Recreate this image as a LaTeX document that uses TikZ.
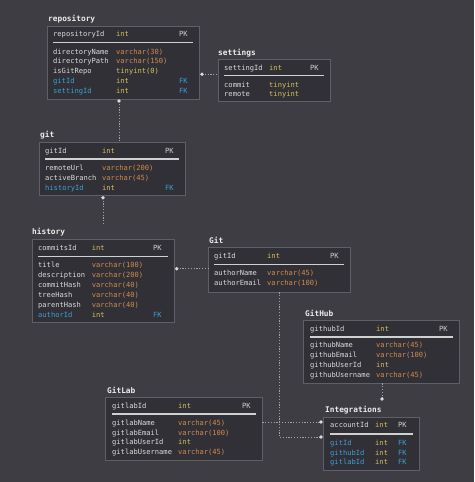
\documentclass[tikz,border=0pt]{standalone}
\usepackage{fontspec}
\setmonofont{DejaVu Sans Mono}
\definecolor{bgc}{HTML}{3D3D43}
\definecolor{tblfill}{HTML}{303036}
\definecolor{tblborder}{HTML}{5F5F67}
\definecolor{ttlc}{HTML}{ECECEC}
\definecolor{nmc}{HTML}{DCDCDC}
\definecolor{fkc}{HTML}{3D9FD6}
\definecolor{intc}{HTML}{D6C25A}
\definecolor{varc}{HTML}{D08A4E}
\definecolor{pkc}{HTML}{D0D0D0}
\definecolor{sepc}{HTML}{D0D0D0}
\definecolor{connc}{HTML}{A0A0A8}
\definecolor{dotc}{HTML}{DADAE0}
\tikzset{
  tbl/.style={draw=tblborder, fill=tblfill, line width=0.9pt, inner sep=0pt},
  txt/.style={anchor=base west, inner sep=0pt, font=\ttfamily\fontsize{7.1}{8}\selectfont},
  ttl/.style={anchor=base west, inner sep=0pt, font=\ttfamily\bfseries\fontsize{7.8}{9}\selectfont, text=ttlc},
  nm/.style={txt, text=nmc},
  fk/.style={txt, text=fkc},
  ti/.style={txt, text=intc},
  tv/.style={txt, text=varc},
  pk/.style={txt, text=pkc},
  sepline/.style={draw=sepc, line width=1.2pt},
  conn/.style={draw=connc, line width=0.9pt, dash pattern=on 1.2pt off 1.6pt},
  dotm/.style={fill=dotc, draw=none}
}
\newcommand\mytable[5]{\node[tbl, minimum width={(#4-#2)*1pt}, minimum height={(#5-#3)*1pt}] (#1) at ({(#2+#4)/2},{(#3+#5)/2}) {};}
\newcommand\mytitle[4]{\node[ttl] (#1) at (#2,{#3+2.8}) {#4};}
\newcommand\fld[8]{%
  \node[#4] (#1-n) at (\cn,{#2+2.5}) {#3};
  \node[#6] (#1-t) at (\ct,{#2+2.5}) {#5};
  \node[#8] (#1-k) at (\ck,{#2+2.5}) {#7};}
\begin{document}
\begin{tikzpicture}[x=1pt,y=-1pt]
\useasboundingbox (0,0) rectangle (474,482);
\fill[bgc] (0,0) rectangle (474,482);

% repository
\mytable{repo}{47}{26}{199}{99}
\mytitle{repoT}{48}{18.5}{repository}
\def\cn{53}\def\ct{116}\def\ck{179}
\fld{repoH}{34}{repositoryId}{nm}{int}{ti}{PK}{pk}
\draw[sepline] (53,42.5) -- (193,42.5);
\fld{repo1}{51.5}{directoryName}{nm}{varchar(30)}{tv}{}{pk}
\fld{repo2}{61.3}{directoryPath}{nm}{varchar(150)}{tv}{}{pk}
\fld{repo3}{71.3}{isGitRepo}{nm}{tinyint(0)}{ti}{}{pk}
\fld{repo4}{81}{gitId}{fk}{int}{ti}{FK}{fk}
\fld{repo5}{91}{settingId}{fk}{int}{ti}{FK}{fk}

% settings
\mytable{settings}{218}{59.5}{330}{101.5}
\mytitle{settingsT}{218}{52.5}{settings}
\def\cn{224}\def\ct{269}\def\ck{310}
\fld{setH}{67.7}{settingId}{nm}{int}{ti}{PK}{pk}
\draw[sepline] (224,75.7) -- (324,75.7);
\fld{set1}{84.7}{commit}{nm}{tinyint}{ti}{}{pk}
\fld{set2}{94.3}{remote}{nm}{tinyint}{ti}{}{pk}

% git
\mytable{git}{39}{142}{185}{195}
\mytitle{gitT}{40}{135}{git}
\def\cn{45}\def\ct{102}\def\ck{165}
\fld{gitH}{151}{gitId}{nm}{int}{ti}{PK}{pk}
\draw[sepline] (45,159) -- (179,159);
\fld{git1}{168.3}{remoteUrl}{nm}{varchar(200)}{tv}{}{pk}
\fld{git2}{177.7}{activeBranch}{nm}{varchar(45)}{tv}{}{pk}
\fld{git3}{187.7}{historyId}{fk}{int}{ti}{FK}{fk}

% history
\mytable{history}{32}{239}{174}{322.7}
\mytitle{historyT}{32}{232}{history}
\def\cn{38}\def\ct{91.7}\def\ck{153}
\fld{hisH}{248.3}{commitsId}{nm}{int}{ti}{PK}{pk}
\draw[sepline] (38,256.7) -- (168,256.7);
\fld{his1}{265}{title}{nm}{varchar(100)}{tv}{}{pk}
\fld{his2}{275}{description}{nm}{varchar(200)}{tv}{}{pk}
\fld{his3}{285}{commitHash}{nm}{varchar(40)}{tv}{}{pk}
\fld{his4}{295}{treeHash}{nm}{varchar(40)}{tv}{}{pk}
\fld{his5}{305}{parentHash}{nm}{varchar(40)}{tv}{}{pk}
\fld{his6}{314.5}{authorId}{fk}{int}{ti}{FK}{fk}

% Git
\mytable{author}{208}{247}{350}{292}
\mytitle{authorT}{209}{240.7}{Git}
\def\cn{214}\def\ct{267}\def\ck{330}
\fld{autH}{255.7}{gitId}{nm}{int}{ti}{PK}{pk}
\draw[sepline] (214,264.3) -- (344,264.3);
\fld{aut1}{273.3}{authorName}{nm}{varchar(45)}{tv}{}{pk}
\fld{aut2}{283.3}{authorEmail}{nm}{varchar(100)}{tv}{}{pk}

% GitHub
\mytable{github}{303}{320}{459}{383}
\mytitle{githubT}{305}{313.3}{GitHub}
\def\cn{310}\def\ct{376}\def\ck{439}
\fld{ghH}{329}{githubId}{nm}{int}{ti}{PK}{pk}
\draw[sepline] (310,337) -- (453,337);
\fld{gh1}{345}{githubName}{nm}{varchar(45)}{tv}{}{pk}
\fld{gh2}{355}{githubEmail}{nm}{varchar(100)}{tv}{}{pk}
\fld{gh3}{365}{githubUserId}{nm}{int}{ti}{}{pk}
\fld{gh4}{375}{githubUsername}{nm}{varchar(45)}{tv}{}{pk}

% GitLab
\mytable{gitlab}{105}{397}{262}{460}
\mytitle{gitlabT}{107}{390.7}{GitLab}
\def\cn{112}\def\ct{178}\def\ck{242}
\fld{glH}{406}{gitlabId}{nm}{int}{ti}{PK}{pk}
\draw[sepline] (112,414) -- (256,414);
\fld{gl1}{422.7}{gitlabName}{nm}{varchar(45)}{tv}{}{pk}
\fld{gl2}{432.7}{gitlabEmail}{nm}{varchar(100)}{tv}{}{pk}
\fld{gl3}{442.3}{gitlabUserId}{nm}{int}{ti}{}{pk}
\fld{gl4}{452.3}{gitlabUsername}{nm}{varchar(45)}{tv}{}{pk}

% Integrations
\mytable{integ}{323}{417}{419}{470}
\mytitle{integT}{325}{410}{Integrations}
\def\cn{330}\def\ct{375}\def\ck{398}
\fld{inH}{425}{accountId}{nm}{int}{ti}{PK}{pk}
\draw[sepline] (330,434) -- (413,434);
\fld{in1}{442.7}{gitId}{fk}{int}{ti}{FK}{fk}
\fld{in2}{452.7}{githubId}{fk}{int}{ti}{FK}{fk}
\fld{in3}{462.3}{gitlabId}{fk}{int}{ti}{FK}{fk}

% connectors
\coordinate (d1) at (202,74.3);
\draw[conn] (d1) -- (settings.west |- d1);
\coordinate (d2) at (119,101);
\draw[conn] (d2) -- (git.north -| d2);
\coordinate (d3) at (103,197.7);
\coordinate (e3) at (103,224);
\draw[conn] (d3) -- (e3);
\coordinate (d4) at (176.7,268.7);
\draw[conn] (d4) -- (author.west |- d4);
\coordinate (d5) at (382,399);
\draw[conn] (github.south -| d5) -- (d5);
\coordinate (d6) at (321,422);
\draw[conn] (gitlab.east |- d6) -- (d6);
\coordinate (d7) at (321,437);
\coordinate (b7) at (279,437);
\draw[conn] (author.south -| b7) -- (b7) -- (d7);
\foreach \p in {d1,d2,d3,d4,d5,d6,d7} \fill[dotm] (\p) circle (1.9pt);
\end{tikzpicture}
\end{document}
